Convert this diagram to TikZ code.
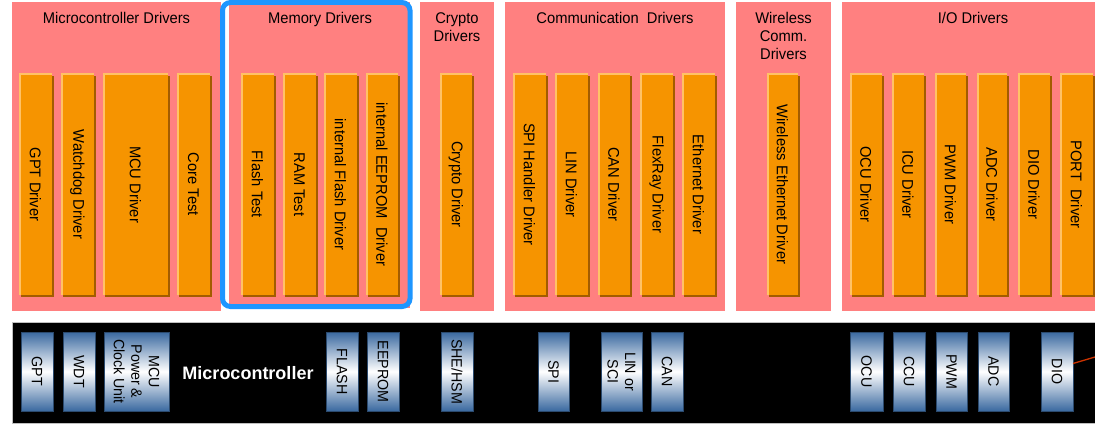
\documentclass[tikz,border=0pt]{standalone}
\usepackage{fontspec}
\setmainfont{Liberation Sans}
\newfontfamily\narrowsans[FakeStretch=0.95]{Liberation Sans}
\usetikzlibrary{shadows}
\definecolor{pinkc}{HTML}{FF8080}
\definecolor{orangec}{HTML}{F69400}
\definecolor{hlc}{HTML}{FFC266}
\definecolor{shadowc}{HTML}{A35C00}
\definecolor{memblue}{HTML}{1E96FF}
\definecolor{hwblue}{HTML}{3A69A0}
\definecolor{hwborder}{HTML}{2B4A6E}
\definecolor{redline}{HTML}{CC3300}
\tikzset{
  grp/.style={fill=pinkc},
  grptitle/.style={font=\narrowsans\fontsize{15.5}{18}\selectfont, align=center, inner sep=0pt, anchor=north},
  drv/.style={rectangle, fill=orangec, inner sep=0pt, outer sep=0pt, anchor=north west,
    minimum height=221pt,
    drop shadow={shadow xshift=2pt, shadow yshift=-2pt, fill=shadowc, opacity=1},
    path picture={\draw[hlc, line width=3pt] (path picture bounding box.south west) -- (path picture bounding box.north west) -- (path picture bounding box.north east);}},
  drvtxt/.style={rotate=-90, font=\narrowsans\fontsize{15.5}{18}\selectfont, inner sep=0pt},
  hw/.style={rectangle, draw=hwborder, line width=0.8pt, top color=hwblue, bottom color=hwblue,
    middle color=white, inner sep=0pt, outer sep=0pt, anchor=north west, minimum height=79pt},
  hwtxt/.style={rotate=-90, font=\narrowsans\fontsize{15}{17.5}\selectfont, inner sep=0pt, align=center},
  mcubar/.style={fill=black, draw=black!25, line width=0.8pt},
  memframe/.style={draw=memblue, line width=5pt, rounded corners=8pt},
  wire/.style={draw=redline, line width=1.3pt}
}
\newcommand\drvbox[4]{\node[drv, minimum width=#3pt] (#1) at (#2,74) {};
  \node[drvtxt] (#1t) at (#1.center) {#4};}
\newcommand\hwbox[4]{\node[hw, minimum width=#3pt] (#1) at (#2,332) {};
  \node[hwtxt] (#1t) at (#1.center) {#4};}
\begin{document}
\begin{tikzpicture}[x=1pt,y=-1pt]
\useasboundingbox (0,0) rectangle (1095,436);
\fill[white] (0,0) rectangle (1095,436);
% groups
\fill[grp] (12,2) rectangle (221,311);
\fill[grp] (229,2) rectangle (410,308);
\fill[grp] (420,2) rectangle (494,311);
\fill[grp] (505,2) rectangle (725,311);
\fill[grp] (736,2) rectangle (831,311);
\fill[grp] (842,2) rectangle (1095,311);
\draw[memframe] (222.5,2.5) rectangle (410,306.5);
% titles
\node[grptitle] (tmcu) at (116.5,12) {Microcontroller Drivers};
\node[grptitle] (tmem) at (320,12) {Memory Drivers};
\node[grptitle] (tcry) at (457,12) {Crypto\\Drivers};
\node[grptitle] (tcom) at (615,12) {Communication~~Drivers};
\node[grptitle] (twir) at (783.5,12) {Wireless\\Comm.\\Drivers};
\node[grptitle] (tio) at (973,12) {I/O Drivers};
% driver boxes
\drvbox{gpt}{19}{33}{GPT Driver}
\drvbox{wdg}{61}{33}{Watchdog Driver}
\drvbox{mcu}{103}{65}{MCU Driver}
\drvbox{core}{177}{33}{Core Test}
\drvbox{flt}{241}{33}{Flash Test}
\drvbox{ramt}{283}{33}{RAM Test}
\drvbox{ifl}{324}{33}{internal Flash Driver}
\drvbox{iee}{366}{32}{internal EEPROM~~Driver}
\drvbox{cry}{440}{32}{Crypto Driver}
\drvbox{spi}{513}{33}{SPI Handler Driver}
\drvbox{lin}{555}{33}{LIN Driver}
\drvbox{can}{598}{32}{CAN Driver}
\drvbox{fr}{640}{33}{FlexRay Driver}
\drvbox{eth}{682}{33}{Ethernet Driver}
\drvbox{weth}{767}{31}{Wireless Ethernet Driver}
\drvbox{ocu}{850}{32}{OCU Driver}
\drvbox{icu}{892}{32}{ICU Driver}
\drvbox{pwm}{935}{31}{PWM Driver}
\drvbox{adc}{977}{30}{ADC Driver}
\drvbox{dio}{1018}{32}{DIO Driver}
\drvbox{port}{1060}{33}{PORT~~Driver}
% microcontroller bar
\fill[mcubar] (12,322) rectangle (1100,423);
\node[font=\bfseries\fontsize{18}{20}\selectfont, text=white, inner sep=0pt] (mc) at (248,373) {Microcontroller};
\hwbox{hgpt}{21}{32}{GPT}
\hwbox{hwdt}{63}{32}{WDT}
\hwbox{hmcu}{104}{65}{MCU\\Power \&\\Clock Unit}
\hwbox{hfl}{326}{32}{FLASH}
\hwbox{hee}{367}{32}{EEPROM}
\hwbox{hshe}{441}{32}{SHE/HSM}
\hwbox{hspi}{538}{31}{SPI}
\hwbox{hlin}{601}{41}{LIN or\\SCI}
\hwbox{hcan}{651}{32}{CAN}
\hwbox{hocu}{850}{33}{OCU}
\hwbox{hccu}{893}{32}{CCU}
\hwbox{hpwm}{936}{31}{PWM}
\hwbox{hadc}{978}{31}{ADC}
\hwbox{hdio}{1041}{32}{DIO}
\coordinate (rend) at (1095,357);
\draw[wire] ([yshift=8pt]hdio.east) -- (rend);
\end{tikzpicture}
\end{document}
